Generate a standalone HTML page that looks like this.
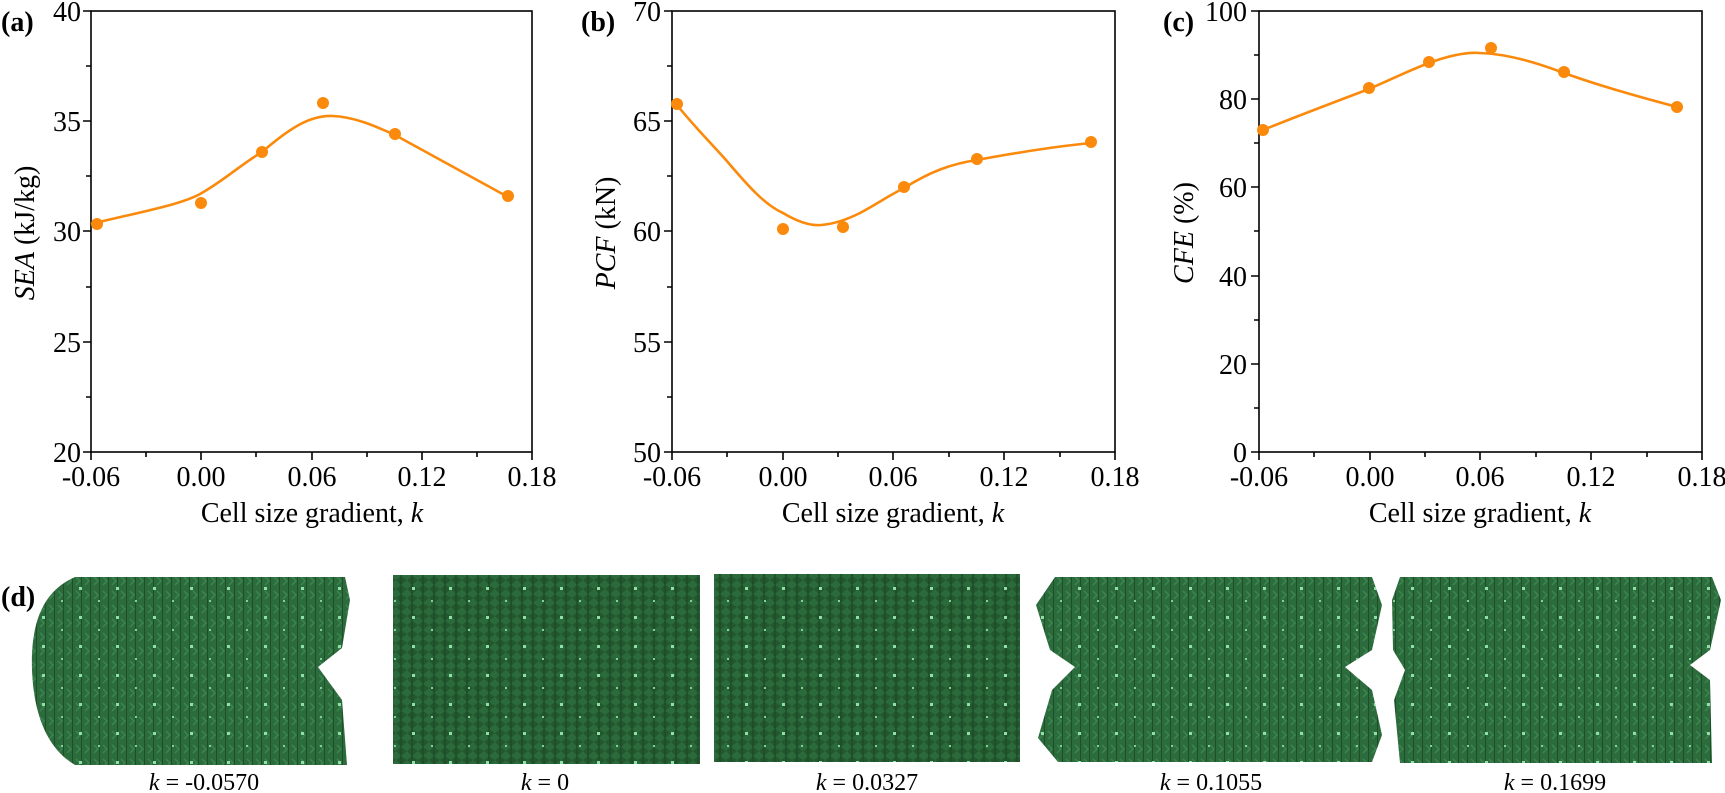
<!DOCTYPE html>
<html><head><meta charset="utf-8"><style>
html,body{margin:0;padding:0;background:#fff}
svg{display:block}
svg text{font-family:"Liberation Serif","Times New Roman","DejaVu Serif",serif;fill:#000}
</style></head><body>
<svg width="1725" height="793" viewBox="0 0 1725 793" xmlns="http://www.w3.org/2000/svg" font-family="Liberation Serif, Times New Roman, DejaVu Serif, serif">
<defs>
<pattern id="g1" width="9" height="14" patternUnits="userSpaceOnUse">
<rect width="9" height="14" fill="#2c6b3b"/>
<path d="M0,0 L0,14" stroke="#1a4524" stroke-width="1.6"/>
<path d="M4,3 L8,7 L4,11" stroke="#3b8550" stroke-width="1.5" fill="none"/>
</pattern>
<pattern id="g2" width="11" height="9" patternUnits="userSpaceOnUse">
<rect width="11" height="9" fill="#2b6a3a"/>
<path d="M0,4 L5,0 L11,4 L5,9Z" fill="#23582f"/>
<path d="M5,0 L5,9" stroke="#1a4524" stroke-width="1"/>
</pattern>
<pattern id="dots" width="37" height="29" patternUnits="userSpaceOnUse">
<rect x="5" y="7" width="3" height="3" fill="#8fe0a8"/>
<rect x="24" y="20" width="2" height="2" fill="#7fd09a"/>
</pattern>
</defs>

<g stroke="#000" stroke-width="1.6" fill="none">
<rect x="91" y="11" width="441" height="441"/>
<path d="M91,452v8 M201,452v8 M312,452v8 M422,452v8 M532,452v8 M146,452v5 M256,452v5 M367,452v5 M477,452v5
M91,11h-8 M91,121h-8 M91,231h-8 M91,342h-8 M91,452h-8 M91,66h-5 M91,176h-5 M91,287h-5 M91,397h-5"/>
<rect x="672" y="11" width="443" height="441"/>
<path d="M672,452v8 M783,452v8 M893,452v8 M1004,452v8 M1115,452v8 M727,452v5 M838,452v5 M949,452v5 M1060,452v5
M672,11h-8 M672,121h-8 M672,231h-8 M672,342h-8 M672,452h-8 M672,66h-5 M672,176h-5 M672,287h-5 M672,397h-5"/>
<rect x="1259" y="11" width="443" height="441"/>
<path d="M1259,452v8 M1370,452v8 M1480,452v8 M1591,452v8 M1702,452v8 M1314,452v5 M1425,452v5 M1536,452v5 M1647,452v5
M1259,11h-8 M1259,99h-8 M1259,187h-8 M1259,276h-8 M1259,364h-8 M1259,452h-8 M1259,55h-5 M1259,143h-5 M1259,231h-5 M1259,320h-5 M1259,408h-5"/>
</g>

<g stroke="#fb8a0c" stroke-width="2.6" fill="none">
<path d="M91,224 C140,212 180,205 200,194 C225,180 240,165 262,152 C290,128 310,115 333,116 C355,117 375,126 395,135 C440,160 480,182 508,197"/>
<path d="M673,100 C690,122 708,140 726,160 C748,186 765,205 783,213 C798,222 810,226 821,225 C835,224 848,219 860,213 C875,205 890,195 904,188 C930,172 950,164 977,160 C1020,152 1060,146 1091,143"/>
<path d="M1263,130 C1300,115 1340,100 1369,89 C1390,80 1410,70 1429,63 C1448,56 1465,52 1480,53 C1510,54 1540,64 1564,73 C1600,86 1640,97 1677,107"/>
</g>
<g fill="#fb8a0c">
<circle cx="97" cy="224" r="6"/><circle cx="201" cy="203" r="6"/><circle cx="262" cy="152" r="6"/><circle cx="323" cy="103" r="6"/><circle cx="395" cy="134" r="6"/><circle cx="508" cy="196" r="6"/>
<circle cx="677" cy="104" r="6"/><circle cx="783" cy="229" r="6"/><circle cx="843" cy="227" r="6"/><circle cx="904" cy="187" r="6"/><circle cx="977" cy="159" r="6"/><circle cx="1091" cy="142" r="6"/>
<circle cx="1263" cy="130" r="6"/><circle cx="1369" cy="88" r="6"/><circle cx="1429" cy="62" r="6"/><circle cx="1491" cy="48" r="6"/><circle cx="1564" cy="72" r="6"/><circle cx="1677" cy="107" r="6"/>
</g>

<g font-size="28" font-family="Liberation Serif, Times New Roman, DejaVu Serif, serif">
<g text-anchor="end">
<text x="81" y="21">40</text><text x="81" y="131">35</text><text x="81" y="241">30</text><text x="81" y="352">25</text><text x="81" y="462">20</text>
<text x="661" y="21">70</text><text x="661" y="131">65</text><text x="661" y="241">60</text><text x="661" y="352">55</text><text x="661" y="462">50</text>
<text x="1247" y="21">100</text><text x="1247" y="109">80</text><text x="1247" y="197">60</text><text x="1247" y="286">40</text><text x="1247" y="374">20</text><text x="1247" y="462">0</text>
</g>
<g text-anchor="middle">
<text x="91" y="486">-0.06</text><text x="201" y="486">0.00</text><text x="312" y="486">0.06</text><text x="422" y="486">0.12</text><text x="532" y="486">0.18</text>
<text x="672" y="486">-0.06</text><text x="783" y="486">0.00</text><text x="893" y="486">0.06</text><text x="1004" y="486">0.12</text><text x="1115" y="486">0.18</text>
<text x="1259" y="486">-0.06</text><text x="1370" y="486">0.00</text><text x="1480" y="486">0.06</text><text x="1591" y="486">0.12</text><text x="1702" y="486">0.18</text>
<text x="312" y="522">Cell size gradient, <tspan font-style="italic">k</tspan></text>
<text x="893" y="522">Cell size gradient, <tspan font-style="italic">k</tspan></text>
<text x="1480" y="522">Cell size gradient, <tspan font-style="italic">k</tspan></text>
<text transform="translate(34,233) rotate(-90)"><tspan font-style="italic">SEA</tspan> (kJ/kg)</text>
<text transform="translate(615,233) rotate(-90)"><tspan font-style="italic">PCF</tspan> (kN)</text>
<text transform="translate(1193,233) rotate(-90)"><tspan font-style="italic">CFE</tspan> (%)</text>
</g>
<g font-weight="bold">
<text x="1" y="31">(a)</text><text x="581" y="31">(b)</text><text x="1163" y="31">(c)</text>
<text x="1" y="606">(d)</text>
</g>
</g>

<g>
<path d="M75,577 L345,577 L350,600 L342,648 L318,667 L342,700 L347,765 L75,765 C50,750 34,720 32,670 C30,612 50,588 75,577Z" fill="url(#g1)"/>
<path d="M75,577 L345,577 L350,600 L342,648 L318,667 L342,700 L347,765 L75,765 C50,750 34,720 32,670 C30,612 50,588 75,577Z" fill="url(#dots)"/>
<rect x="393" y="575" width="307" height="189" fill="url(#g2)"/>
<rect x="393" y="575" width="307" height="189" fill="url(#dots)"/>
<rect x="714" y="574" width="306" height="188" fill="url(#g2)"/>
<rect x="714" y="574" width="306" height="188" fill="url(#dots)"/>
<path d="M1055,577 L1372,577 L1382,605 L1372,650 L1345,667 L1372,690 L1382,735 L1372,762 L1058,762 L1038,738 L1052,690 L1075,667 L1050,650 L1036,605 Z" fill="url(#g1)"/>
<path d="M1055,577 L1372,577 L1382,605 L1372,650 L1345,667 L1372,690 L1382,735 L1372,762 L1058,762 L1038,738 L1052,690 L1075,667 L1050,650 L1036,605 Z" fill="url(#dots)"/>
<path d="M1400,577 L1712,577 L1721,600 L1710,650 L1690,665 L1710,680 L1712,763 L1400,763 L1394,700 L1405,670 L1393,650 L1392,600 Z" fill="url(#g1)"/>
<path d="M1400,577 L1712,577 L1721,600 L1710,650 L1690,665 L1710,680 L1712,763 L1400,763 L1394,700 L1405,670 L1393,650 L1392,600 Z" fill="url(#dots)"/>
</g>
<g font-size="24" text-anchor="middle" font-family="Liberation Serif, Times New Roman, DejaVu Serif, serif">
<text x="204" y="790"><tspan font-style="italic">k</tspan> = -0.0570</text>
<text x="545" y="790"><tspan font-style="italic">k</tspan> = 0</text>
<text x="867" y="790"><tspan font-style="italic">k</tspan> = 0.0327</text>
<text x="1211" y="790"><tspan font-style="italic">k</tspan> = 0.1055</text>
<text x="1555" y="790"><tspan font-style="italic">k</tspan> = 0.1699</text>
</g>
</svg>
</body></html>
